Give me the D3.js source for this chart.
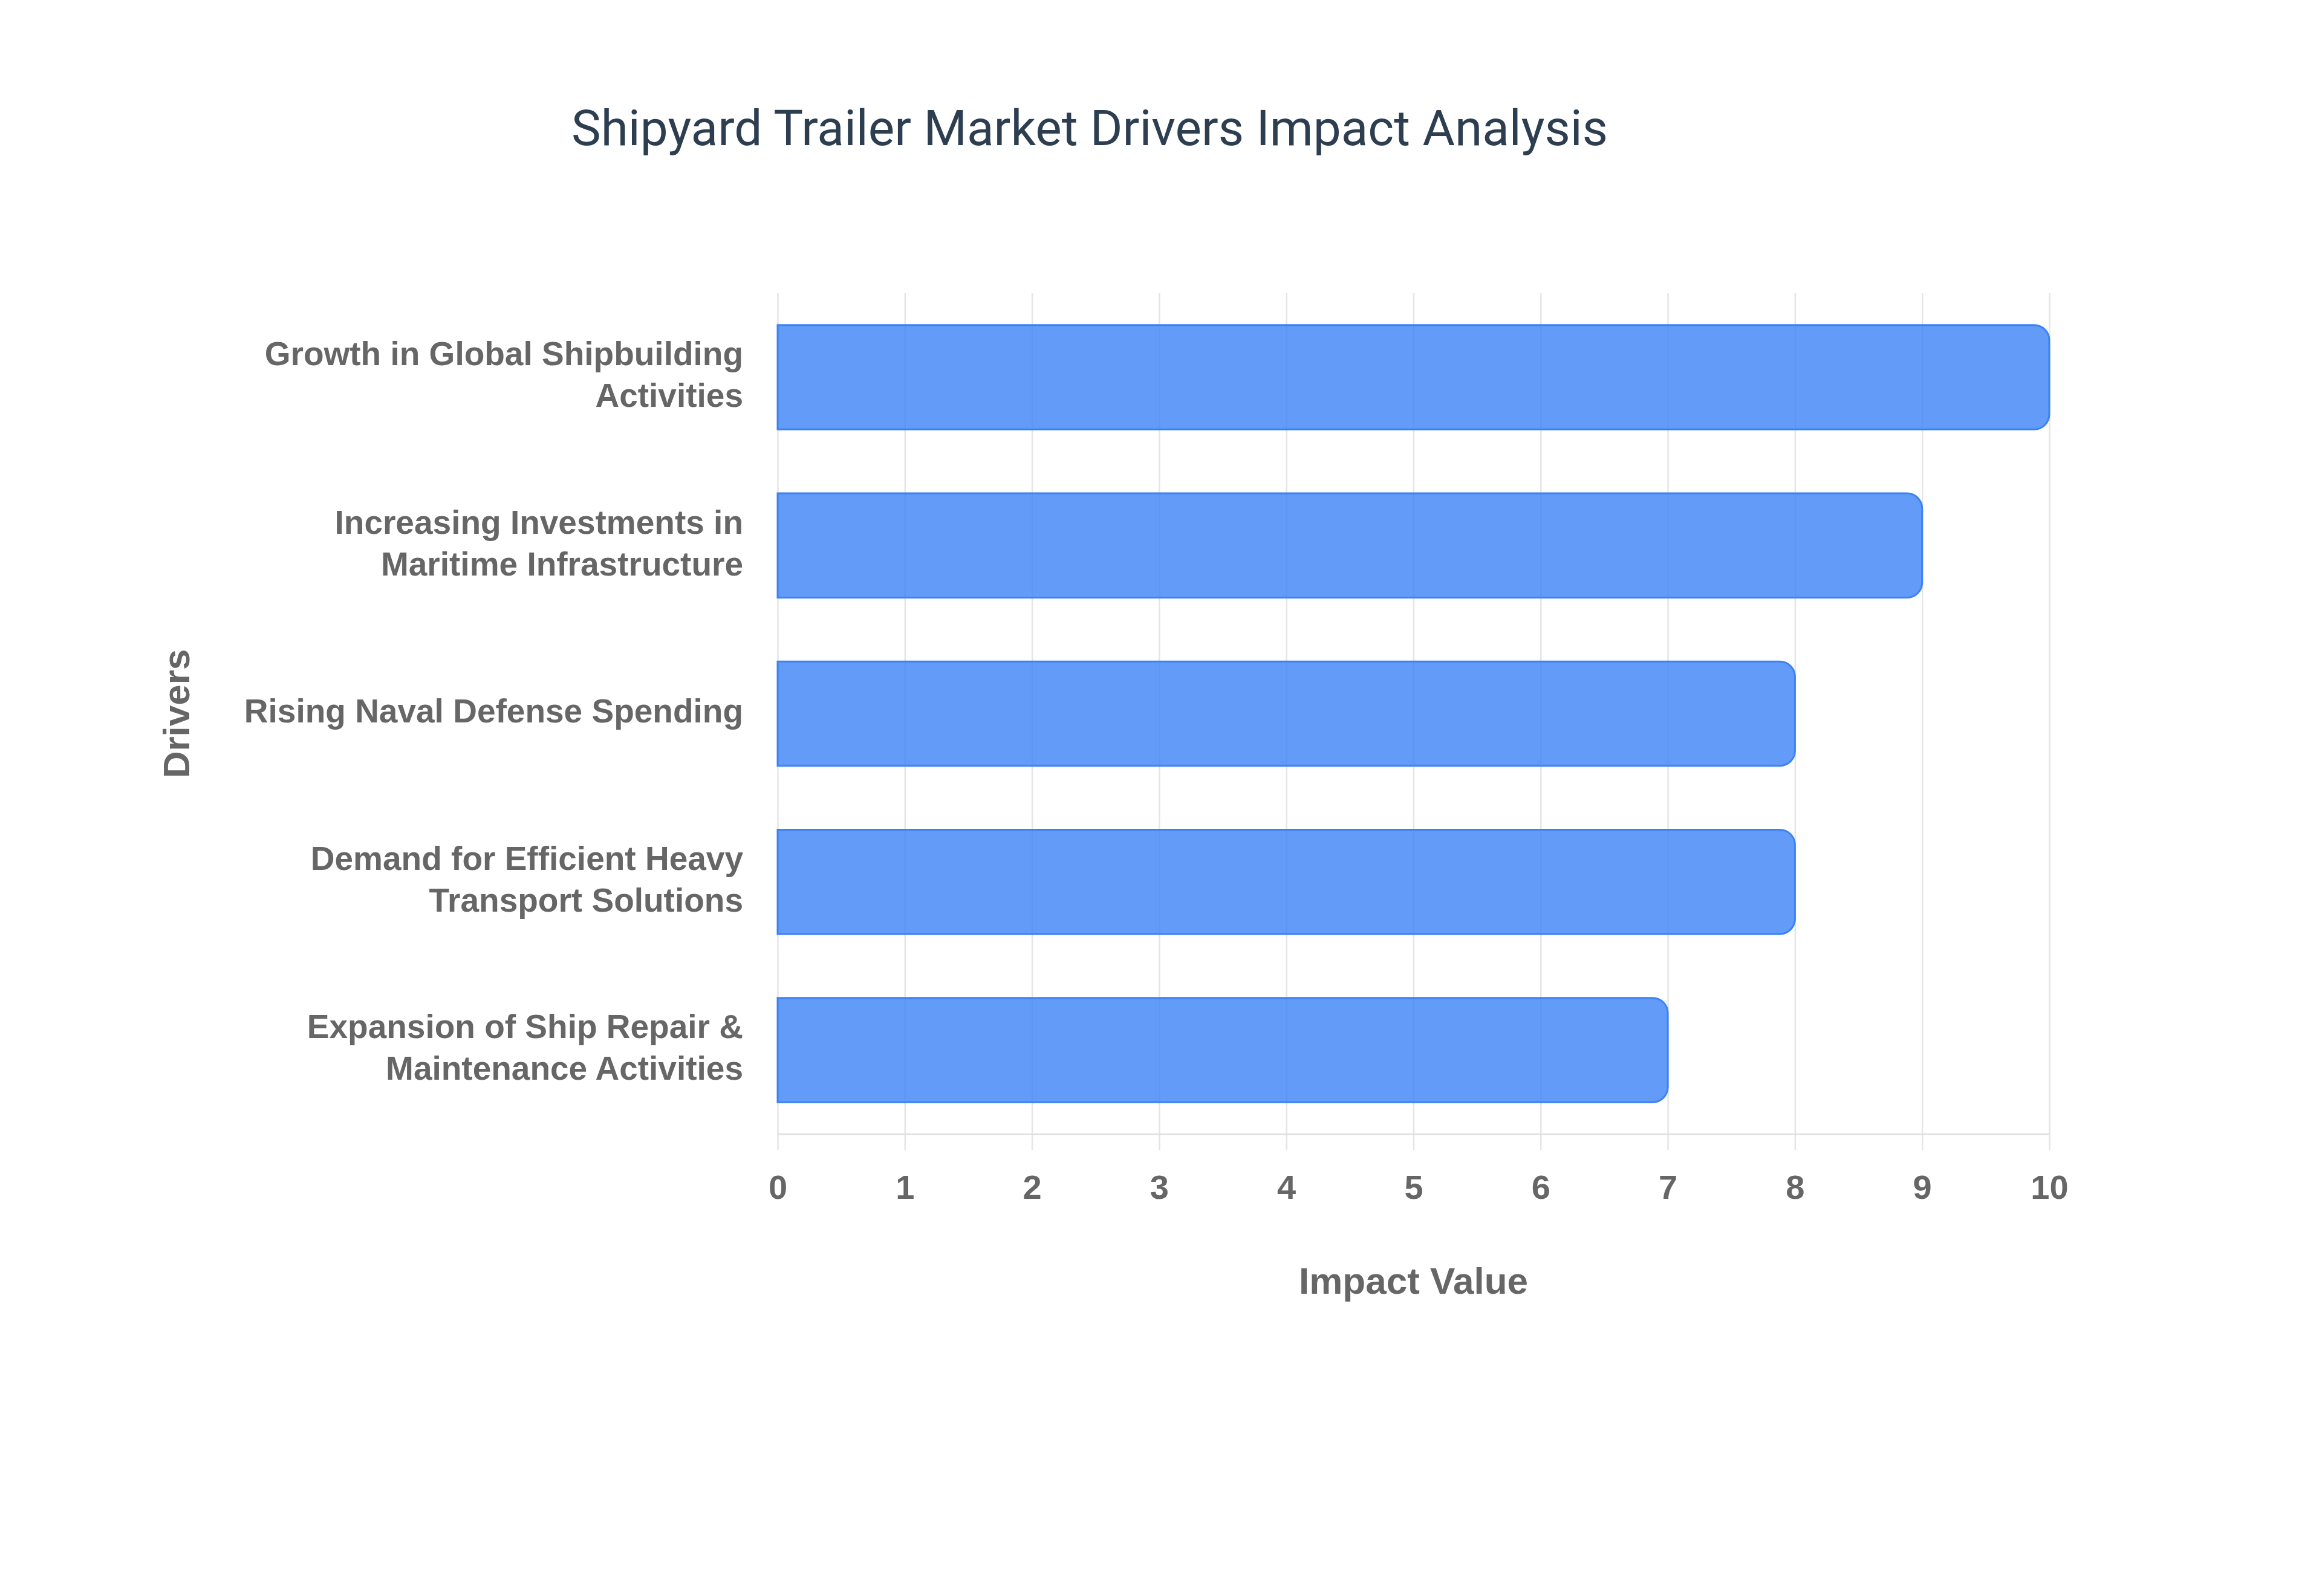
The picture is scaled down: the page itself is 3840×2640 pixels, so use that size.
<!DOCTYPE html>
<html lang="en">
<head>
    <meta charset="UTF-8">
    <script src="https://cdn.jsdelivr.net/npm/d3@7.8.5/dist/d3.min.js"></script>
    <title>Shipyard Trailer Market Drivers Impact Analysis</title>
    <style>
        body { margin: 0; background: #ffffff; }
        .bar { fill: #3b82f6; fill-opacity: 0.8; stroke: #3b82f6; stroke-width: 3; }
        .tick text { font-family: "Liberation Sans", Arial, sans-serif; font-weight: bold; fill: #666666; }
        .grid line { stroke: #e5e5e5; stroke-width: 2.5; }
    </style>
</head>
<body onload="main()">
    <svg width="3840" height="2640"></svg>
    <script type="text/javascript">
        // chart data
        var drivers = [
            "Growth in Global Shipbuilding Activities",
            "Increasing Investments in Maritime Infrastructure",
            "Rising Naval Defense Spending",
            "Demand for Efficient Heavy Transport Solutions",
            "Expansion of Ship Repair & Maintenance Activities"
        ];
        var impactValues = [10, 9, 8, 8, 7];
        var xTickValues = [0, 1, 2, 3, 4, 5, 6, 7, 8, 9, 10];

        var titleText = "Shipyard Trailer Market Drivers Impact Analysis";
        var xTitle = "Impact Value";
        var yTitle = "Drivers";

        // split a label into lines of at most maxChars characters
        function wrapLabel(label, maxChars) {
            var words = label.split(" "), lines = [], line = "";
            words.forEach(function(w) {
                var next = line ? line + " " + w : w;
                if (next.length > maxChars && line) {
                    lines.push(line);
                    line = w;
                } else {
                    line = next;
                }
            });
            if (line) lines.push(line);
            return lines;
        }

        function main() {
            var svg = d3.select("svg"),
                margin = {top: 485, right: 451, bottom: 764, left: 1286},
                width = +svg.attr("width") - margin.left - margin.right,
                height = +svg.attr("height") - margin.top - margin.bottom;

            svg.append("rect").attr("width", 3840).attr("height", 2640).attr("fill", "#ffffff");

            var data = drivers.map(function(d, i) { return {driver: d, value: impactValues[i]}; });

            var xScale = d3.scaleLinear().domain([0, 10]).range([0, width]);
            var yScale = d3.scaleBand().domain(drivers).range([0, height])
                .paddingInner(0.38).paddingOuter(0.19);

            var g = svg.append("g").attr("transform", "translate(" + margin.left + "," + margin.top + ")");

            // vertical grid lines + tick labels (ticks stick out a little below the baseline)
            var tickOut = 26;
            var xAxis = g.append("g")
                .attr("class", "grid")
                .attr("transform", "translate(0," + (height + tickOut) + ")")
                .call(d3.axisBottom(xScale).tickValues(xTickValues)
                    .tickSize(-(height + tickOut)).tickPadding(41).tickFormat(d3.format("d")));
            xAxis.select(".domain").remove();
            xAxis.selectAll(".tick text").attr("font-size", 56);

            // baseline
            g.append("line")
                .attr("x1", 0).attr("x2", width)
                .attr("y1", height).attr("y2", height)
                .attr("stroke", "#e0e0e0").attr("stroke-width", 2.5);

            // bars, rounded only at the value end
            var r = 25;
            g.selectAll(".bar")
                .data(data)
                .enter().append("path")
                .attr("class", "bar")
                .attr("d", function(d) {
                    var x0 = xScale(0), x1 = xScale(d.value),
                        y0 = yScale(d.driver), h = yScale.bandwidth();
                    return "M" + x0 + "," + y0 +
                        "H" + (x1 - r) +
                        "A" + r + "," + r + " 0 0 1 " + x1 + "," + (y0 + r) +
                        "V" + (y0 + h - r) +
                        "A" + r + "," + r + " 0 0 1 " + (x1 - r) + "," + (y0 + h) +
                        "H" + x0 + "Z";
                });

            // category labels
            var labelSize = 55, lineHeight = 69;
            var yAxis = g.append("g")
                .call(d3.axisLeft(yScale).tickSize(0).tickPadding(57));
            yAxis.select(".domain").remove();
            yAxis.selectAll(".tick text")
                .attr("font-size", labelSize)
                .attr("dy", null)
                .each(function(d) {
                    var t = d3.select(this), lines = wrapLabel(d, 30);
                    t.text(null);
                    lines.forEach(function(line, i) {
                        t.append("tspan")
                            .attr("x", -57)
                            .attr("y", (i - (lines.length - 1) / 2) * lineHeight + 0.27 * labelSize)
                            .text(line);
                    });
                });

            // title
            svg.append("text")
                .attr("x", 945).attr("y", 240)
                .attr("font-family", "Roboto, sans-serif")
                .attr("font-size", 82)
                .attr("fill", "#2c3e50")
                .text(titleText);

            // axis titles
            svg.append("text")
                .attr("x", margin.left + width / 2).attr("y", 2140)
                .attr("text-anchor", "middle")
                .attr("font-family", "'Liberation Sans', Arial, sans-serif")
                .attr("font-weight", "bold").attr("font-size", 62)
                .attr("fill", "#666666")
                .text(xTitle);

            svg.append("text")
                .attr("transform", "translate(313," + (margin.top + height / 2) + ") rotate(-90)")
                .attr("text-anchor", "middle")
                .attr("font-family", "'Liberation Sans', Arial, sans-serif")
                .attr("font-weight", "bold").attr("font-size", 62)
                .attr("fill", "#666666")
                .text(yTitle);
        }
    </script>
</body>
</html>
